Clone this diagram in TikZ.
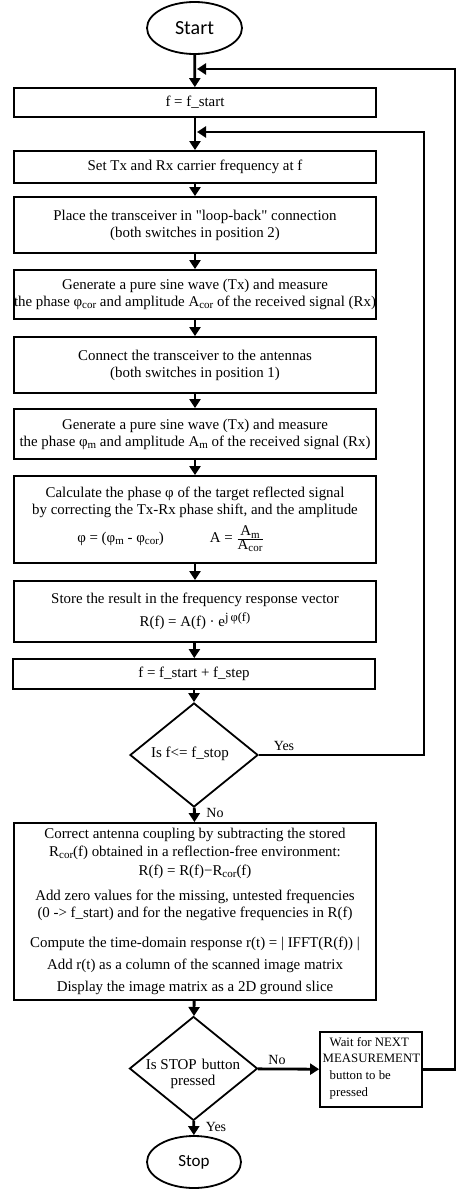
\documentclass[tikz,border=0pt]{standalone}
\usepackage{fontspec}
\setmainfont{Liberation Serif}
\newfontfamily\calib{Carlito}
\usetikzlibrary{arrows.meta,shapes.geometric}
\newcommand\myfs{\fontsize{14.9}{17}\selectfont}
\newcommand\sbs[1]{\raisebox{-0.35ex}{\fontsize{11}{11}\selectfont #1}}
\newcommand\sps[1]{\raisebox{0.75ex}{\fontsize{12.5}{12}\selectfont #1}}
\begin{document}
\begin{tikzpicture}[x=1pt,y=-1pt,
  box/.style={draw,line width=1.8pt,minimum width=362pt,inner sep=0pt,align=center,font=\myfs},
  term/.style={draw,ellipse,line width=1.8pt,minimum width=95pt,minimum height=52pt,inner sep=0pt},
  dec/.style={draw,diamond,line width=1.8pt,minimum width=128pt,minimum height=104pt,inner sep=0pt},
  dtxt/.style={inner sep=0pt,align=center,font=\fontsize{15}{16.5}\selectfont},
  lbl/.style={font=\fontsize{14}{16}\selectfont,inner sep=0pt},
  arr/.style={line width=2.8pt,-{Triangle[length=9pt,width=11pt]}}]
\useasboundingbox (0,0) rectangle (474,1199);

\node[term,font=\calib\fontsize{20}{24}\selectfont] (start) at (194.5,28) {Start};
\node[box,minimum height=29pt] (b1) at (195,102.5) {f = f\_start};
\node[box,minimum height=32pt] (b2) at (195,167) {Set Tx and Rx carrier frequency at f};
\node[box,minimum height=56pt] (b3) at (195,225) {Place the transceiver in \textquotedbl loop-back\textquotedbl{} connection\\(both switches in position 2)};
\node[box,minimum height=49pt] (b4) at (195,294.5) {Generate a pure sine wave (Tx) and measure\\the phase φ\sbs{cor} and amplitude A\sbs{cor} of the received signal (Rx)};
\node[box,minimum height=56pt] (b5) at (195,365) {Connect the transceiver to the antennas\\(both switches in position 1)};
\node[box,minimum height=50pt] (b6) at (195,434) {Generate a pure sine wave (Tx) and measure\\the phase φ\sbs{m} and amplitude A\sbs{m} of the received signal (Rx)};
\node[box,minimum height=87pt] (b7) at (195,519.5) {Calculate the phase φ of the target reflected signal\\by correcting the Tx-Rx phase shift, and the amplitude\\[7pt]
  φ = (φ\sbs{m} - φ\sbs{cor})\hspace{46pt}A = $\frac{\hbox{A\sbs{m}}}{\hbox{A\sbs{cor}}}$\hspace*{49pt}};
\node[box,minimum height=61pt] (b8) at (195,611.5) {Store the result in the frequency response vector\\[5pt]R(f) = A(f) · e\sps{j\,φ(f)}};
\node[box,minimum height=30pt] (b9) at (194,674) {f = f\_start + f\_step};
\node[dec] (d1) at (194,755) {};
\node[dtxt] (d1t) at (190,754) {Is f<= f\_stop};
\node[box,minimum height=177pt] (b10) at (195,911.5) {Correct antenna coupling by subtracting the stored\\[1pt]
  R\sbs{cor}(f) obtained in a reflection-free environment:\\[2pt]
  R(f) = R(f)−R\sbs{cor}(f)\\[8pt]
  Add zero values for the missing, untested frequencies\\
  (0 -> f\_start) and for the negative frequencies in R(f)\\[13pt]
  Compute the time-domain response r(t) = | IFFT(R(f)) |\\[5pt]
  Add r(t) as a column of the scanned image matrix\\[5pt]
  Display the image matrix as a 2D ground slice};
\node[dec] (d2) at (193.5,1068.5) {};
\node[dtxt] (d2t) at (193,1074) {Is STOP\hspace{5pt}button\\pressed};
\node[draw,line width=1.8pt,minimum width=102pt,minimum height=75pt,inner sep=0pt] (w) at (371,1069.5) {};
\node[lbl,anchor=west,align=left,font=\fontsize{12.8}{16.7}\selectfont] (wt) at (322.5,1068) {\hspace*{7pt}Wait for NEXT\\MEASUREMENT\\\hspace*{7pt}button to be\\\hspace*{7pt}pressed};
\node[term,minimum width=94pt,font=\calib\fontsize{17}{20}\selectfont] (stop) at (194,1162) {Stop};

\node[lbl] (yes1) at (284,746) {Yes};
\node[lbl] (no1) at (215,813) {No};
\node[lbl] (no2) at (277,1060) {No};
\node[lbl] (yes2) at (216,1127) {Yes};

\coordinate (j1) at (197,69);
\coordinate (j2) at (197,132);
\coordinate (o1) at (455,69);
\coordinate (o2) at (424,132);

\draw[arr] (start) -- (b1);
\draw[arr] (b1) -- (b2);
\draw[arr] (b2) -- (b3);
\draw[arr] (b3) -- (b4);
\draw[arr] (b4) -- (b5);
\draw[arr] (b5) -- (b6);
\draw[arr] (b6) -- (b7);
\draw[arr] (b7) -- (b8);
\draw[arr] (b8) -- (b9);
\draw[arr] (b9) -- (d1);
\draw[arr] (d1) -- (b10);
\draw[arr] (b10) -- (d2);
\draw[arr] (d2) -- (stop);
\draw[arr] (d2) -- (w);
\draw[arr] (d1.east) -| (o2) -- (j2);
\draw[arr] (w.east) -| (o1) -- (j1);
\end{tikzpicture}
\end{document}
